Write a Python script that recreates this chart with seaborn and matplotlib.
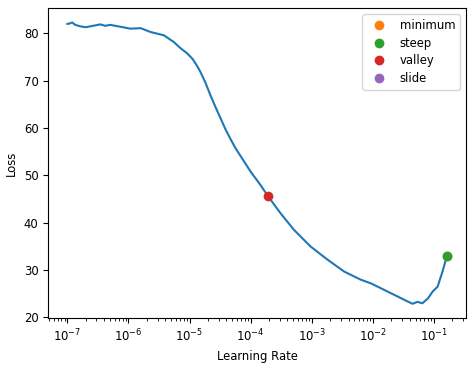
import numpy as np
import pandas as pd
import matplotlib
matplotlib.use("Agg")
import matplotlib.pyplot as plt
import seaborn as sns

plt.rcParams["font.size"] = 8.4

# log10 of learning rate and smoothed loss
lr_log10 = [-7.00, -6.96, -6.92, -6.87, -6.79, -6.70, -6.58, -6.46, -6.38, -6.30,
            -6.13, -5.97, -5.80, -5.64, -5.42, -5.26, -5.15, -5.04, -4.95, -4.87,
            -4.82, -4.74, -4.66, -4.57, -4.49, -4.41, -4.33, -4.25, -4.16, -4.00,
            -3.84, -3.72, -3.51, -3.29, -3.02, -2.74, -2.47, -2.20, -2.03, -1.81,
            -1.59, -1.45, -1.35, -1.27, -1.19, -1.10, -1.02, -0.94, -0.86, -0.787]
loss = [82.0, 82.1, 82.3, 81.8, 81.5, 81.3, 81.6, 81.9, 81.6, 81.8,
        81.4, 81.0, 81.1, 80.3, 79.6, 78.2, 76.9, 75.8, 74.6, 73.0,
        71.8, 69.6, 67.0, 64.3, 62.0, 59.7, 57.7, 55.8, 54.0, 50.8,
        48.0, 45.7, 42.0, 38.5, 35.0, 32.2, 29.7, 28.0, 27.2, 25.8,
        24.4, 23.5, 22.9, 23.3, 23.0, 24.0, 25.5, 26.5, 29.7, 33.0]

suggest_names = ["minimum", "steep", "valley", "slide"]
suggest_lr = [0.163, 0.163, 1.9e-4, np.nan]
suggest_loss = [33.0, 33.0, 45.7, np.nan]
suggest_colors = ["C1", "C2", "C3", "C4"]

df = pd.DataFrame({"lr": [10 ** v for v in lr_log10], "loss": loss})

fig = plt.figure(figsize=(4.74, 3.67), dpi=100)
ax = fig.add_axes([0.102, 0.134, 0.881, 0.843])
sns.lineplot(data=df, x="lr", y="loss", ax=ax, color="C0", linewidth=1.5)
ax.set_xscale("log")
for name, x, y, c in zip(suggest_names, suggest_lr, suggest_loss, suggest_colors):
    ax.plot(x, y, "o", color=c, label=name)
ax.set_xlabel("Learning Rate")
ax.set_ylabel("Loss")
ax.legend(loc="upper right", labelspacing=0.4)
fig.savefig("out.png", dpi=100)
